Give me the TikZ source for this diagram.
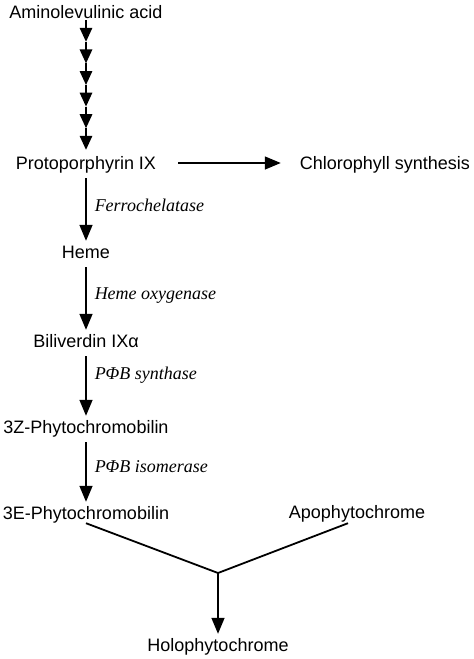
\documentclass[tikz,border=0pt]{standalone}
\usepackage{fontspec}
\setmainfont{Liberation Sans}
\newfontfamily\enzfont{Liberation Serif}
\usetikzlibrary{arrows.meta, calc}

\tikzset{
  cmpd/.style={anchor=base, inner xsep=0pt, inner ysep=4.5pt, text height=13pt, text depth=4pt, font=\fontsize{18}{22}\selectfont},
  enz/.style={midway, anchor=west, xshift=8pt, inner sep=0pt, text height=12pt, text depth=4pt, font=\enzfont\itshape\fontsize{18}{22}\selectfont},
  rxn/.style={line width=1.5pt, -{Triangle[length=16pt,width=13pt]}},
  chainrxn/.style={line width=1.5pt, -{Triangle[length=14pt,width=12.5pt]}},
  yline/.style={line width=1.8pt}
}

\begin{document}
\begin{tikzpicture}[x=1pt, y=-1pt]
        \useasboundingbox (0,0) rectangle (474,659);

        \node[cmpd] (ala) at (86,18.5) {Aminolevulinic acid};
        \node[cmpd] (proto) at (86,169.5) {Protoporphyrin IX};
        \node[cmpd] (chl) at (385,169.5) {Chlorophyll synthesis};
        \node[cmpd] (heme) at (86,258.5) {Heme};
        \node[cmpd] (bili) at (86,347.5) {Biliverdin IXα};
        \node[cmpd] (zpcb) at (86,433.5) {3Z-Phytochromobilin};
        \node[cmpd] (epcb) at (86,519.5) {3E-Phytochromobilin};
        \node[cmpd] (apo) at (357,518.5) {Apophytochrome};
        \node[cmpd] (holo) at (218,651.5) {Holophytochrome};
        \coordinate (top) at ([yshift=7pt]ala.south);
        \coordinate (bot) at ([yshift=2pt]proto.north);
        \coordinate (J) at (218,573);

        \foreach \k in {0,...,5}
            \draw[chainrxn] ($(top)!\k/6!(bot)$) -- ($(top)!{(\k+1)/6}!(bot)$);
        \draw[rxn, shorten <=22pt, shorten >=19pt] ([yshift=2pt]proto.east) -- ([yshift=2pt]chl.west);

        \draw[rxn] (proto) -- (heme) node[enz, yshift=2.5pt] {Ferrochelatase};
        \draw[rxn] (heme) -- (bili) node[enz, yshift=3.5pt] {Heme oxygenase};
        \draw[rxn] (bili) -- (zpcb) node[enz, yshift=11pt] {PΦB synthase};
        \draw[rxn] (zpcb) -- (epcb) node[enz, yshift=4pt] {PΦB isomerase};

        \draw[yline] ([yshift=5pt]epcb.south) -- (J) -- ([xshift=-9pt,yshift=4pt]apo.south);
        \draw[rxn] (J) -- (holo);
    \end{tikzpicture}
\end{document}
